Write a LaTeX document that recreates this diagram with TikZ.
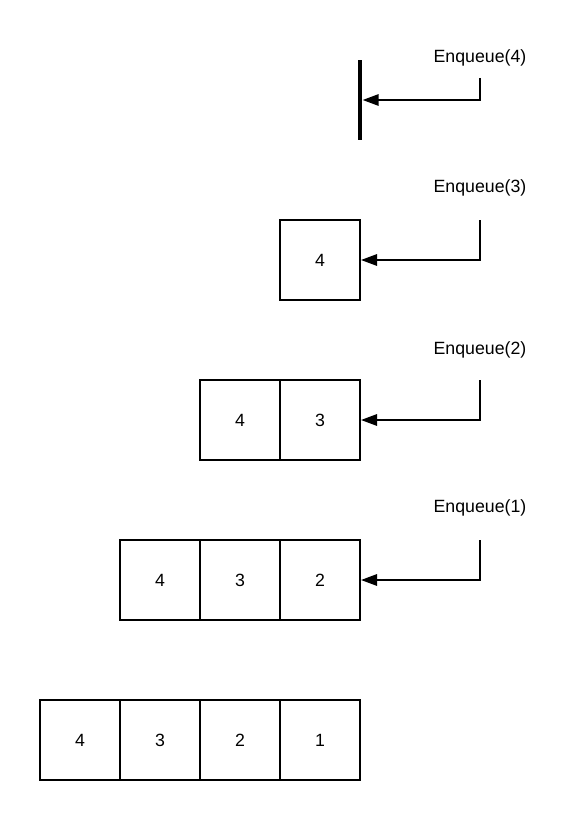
\documentclass[tikz,border=0pt]{standalone}
\usepackage{fontspec}
\setmainfont{Liberation Sans}
\usetikzlibrary{arrows.meta}
\begin{document}
\begin{tikzpicture}[x=0.75pt,y=-0.75pt,
  cell/.style={draw,line width=1.5pt,minimum size=60pt,inner sep=0pt,font=\fontsize{13.3pt}{16pt}\selectfont},
  lbl/.style={font=\fontsize{13.3pt}{16pt}\selectfont,inner sep=0pt},
  conn/.style={line width=1.5pt,-{Triangle[length=12pt,width=8.5pt]}},
  bar/.style={fill=black,minimum width=3.6pt,minimum height=60pt,inner sep=0pt}]
\useasboundingbox (0,0) rectangle (580,820);
% row 1
\node[bar] (b0) at (360,100) {};
\node[lbl] (l4) at (480,58) {Enqueue(4)};
\coordinate (s4) at (480,78);
\draw[conn] (s4) |- (b0.east);
% row 2
\node[cell] (r2a) at (320,260) {4};
\node[lbl] (l3) at (480,188) {Enqueue(3)};
\coordinate (s3) at (480,220);
\draw[conn] (s3) |- (r2a.east);
% row 3
\node[cell] (r3a) at (240,420) {4};
\node[cell] (r3b) at (320,420) {3};
\node[lbl] (l2) at (480,350) {Enqueue(2)};
\coordinate (s2) at (480,380);
\draw[conn] (s2) |- (r3b.east);
% row 4
\node[cell] (r4a) at (160,580) {4};
\node[cell] (r4b) at (240,580) {3};
\node[cell] (r4c) at (320,580) {2};
\node[lbl] (l1) at (480,508) {Enqueue(1)};
\coordinate (s1) at (480,540);
\draw[conn] (s1) |- (r4c.east);
% row 5
\node[cell] (r5a) at (80,740) {4};
\node[cell] (r5b) at (160,740) {3};
\node[cell] (r5c) at (240,740) {2};
\node[cell] (r5d) at (320,740) {1};
\end{tikzpicture}
\end{document}
